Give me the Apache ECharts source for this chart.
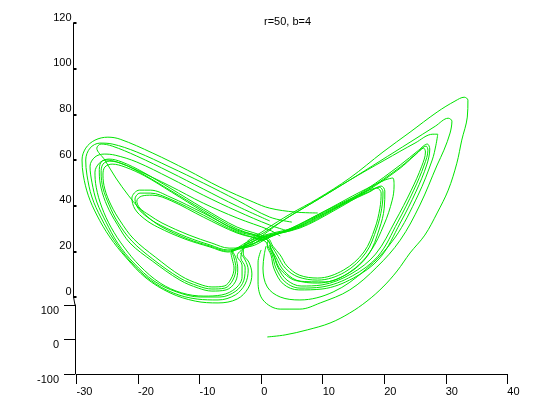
<!DOCTYPE html>
<html><head><meta charset="utf-8">
<script src="https://cdn.jsdelivr.net/npm/echarts@6/dist/echarts.min.js"></script>
<style>html,body{margin:0;padding:0;background:#fff}#c{width:560px;height:420px}</style>
</head><body><div id="c"></div>
<script>
const titleText = 'r=50, b=4';
const xMin = -30, xMax = 40, xStep = 10;
const zMin = 0, zMax = 120, zStep = 20;
const depthMin = -100, depthMax = 100, depthStep = 100;

// trajectory pieces: [x, screen height in z units]
const leftInnerA = [[0.6,24.9],[-3.9,28.4],[-9.4,35.9],[-14.8,42.9],[-18.0,45.5],[-19.7,45.5],[-20.5,42.9],[-20.0,38.9],[-18.5,35.0],[-16.4,31.5],[-12.1,26.3],[-8.3,22.8],[-5.4,20.6]];
const leftInnerB = [[0.6,25.8],[-3.9,29.3],[-9.4,36.8],[-14.8,43.8],[-18.0,46.8],[-19.8,46.8],[-21.0,43.3],[-20.5,38.5],[-18.9,34.1],[-16.8,30.6],[-12.4,25.4],[-8.3,21.9],[-5.4,19.7]];
const leftInnerC = [[0.6,24.5],[-3.9,28.0],[-9.4,35.0],[-14.5,42.0],[-17.7,44.6],[-19.4,44.2],[-20.2,42.0],[-19.7,38.9],[-18.2,35.9],[-16.1,32.4],[-11.7,27.1],[-8.0,23.6],[-5.2,21.4]];
const leftThickA = [[1.1,24.9],[-3.9,29.8],[-9.4,38.1],[-14.8,46.8],[-19.2,53.8],[-22.4,58.2],[-24.6,59.5],[-25.7,58.2],[-26.0,54.3],[-25.7,47.7],[-24.7,40.3],[-23.3,32.8],[-21.0,24.5],[-17.6,16.6],[-13.2,8.3],[-10.2,4.8],[-8.0,3.5],[-5.9,3.9],[-4.6,7.4],[-4.1,12.7],[-4.4,17.1],[-4.7,19.7]];
const leftThickB = [[1.1,25.8],[-3.9,30.6],[-9.4,38.9],[-14.8,47.7],[-19.2,54.7],[-22.6,59.1],[-24.7,60.4],[-26.0,59.1],[-26.3,54.7],[-26.0,47.7],[-25.0,39.8],[-23.4,31.9],[-21.3,23.6],[-17.7,15.8],[-13.2,7.4],[-10.2,3.9],[-8.0,2.6],[-5.7,3.1],[-4.2,6.6],[-3.8,12.3],[-4.1,17.1],[-4.6,20.1]];
const leftThickC = [[1.1,24.5],[-3.9,28.9],[-9.3,37.2],[-14.6,46.0],[-18.9,53.0],[-22.1,56.9],[-24.2,58.2],[-25.4,56.9],[-25.7,53.4],[-25.4,47.3],[-24.4,40.3],[-22.9,33.3],[-20.7,25.4],[-17.2,17.5],[-13.0,9.2],[-10.1,5.7],[-8.0,4.4],[-6.0,4.8],[-4.9,7.9],[-4.4,12.7],[-4.7,16.6],[-4.9,19.3]];
const leftDiag = [[1.4,33.3],[-3.9,39.8],[-9.4,47.3],[-14.8,54.7],[-20.2,61.7],[-24.2,66.1],[-26.0,67.0],[-26.7,65.2],[-25.4,60.0],[-23.6,52.1],[-21.6,44.6],[-20.0,39.4],[-18.4,35.0],[-16.1,30.6],[-11.9,25.4],[-8.3,22.3],[-5.4,20.1]];
const leftOuter1 = [[9.2,36.8],[5.5,37.2],[1.4,38.9],[-1.3,41.6],[-6.7,48.1],[-12.0,55.6],[-17.6,63.0],[-22.9,69.1],[-24.9,70.0],[-27.0,68.7],[-28.5,65.2],[-29.1,60.0],[-28.9,53.4],[-28.1,44.6],[-26.7,35.9],[-24.6,26.3],[-21.9,17.1],[-18.7,8.3],[-14.8,1.8],[-10.7,-1.8],[-7.0,-2.6],[-3.9,-0.9],[-2.1,3.9],[-1.5,10.1],[-2.0,15.3],[-2.9,18.8]];
const leftOuter2 = [[5.0,32.8],[1.4,35.0],[-3.9,42.4],[-9.4,49.9],[-14.8,56.9],[-20.2,63.5],[-24.2,67.0],[-26.2,67.4],[-27.8,65.2],[-28.5,60.0],[-28.3,53.4],[-27.5,43.8],[-26.0,34.6],[-23.9,24.9],[-21.3,15.8],[-18.0,7.4],[-14.3,1.8],[-10.4,-0.9],[-7.0,-1.3],[-4.2,0.9],[-2.6,5.7],[-2.1,11.8],[-2.6,16.2],[-3.4,19.3]];
const leftOuter3 = [[3.9,29.3],[1.4,31.5],[-3.9,37.6],[-9.4,44.6],[-14.8,52.1],[-20.2,59.1],[-23.7,62.1],[-25.5,62.6],[-27.0,61.3],[-27.8,57.3],[-27.5,50.3],[-26.7,41.6],[-25.2,32.8],[-23.3,23.6],[-20.7,14.9],[-17.4,7.0],[-13.7,2.2],[-9.9,0],[-6.7,0],[-4.1,2.6],[-2.8,7.4],[-2.6,13.1],[-3.3,17.1]];
const leftOuter4 = [[3.1,26.7],[1.4,29.3],[-3.9,34.6],[-9.4,41.1],[-14.8,48.6],[-20.2,55.6],[-23.4,59.1],[-25.2,60.0],[-26.3,58.6],[-27.0,54.7],[-26.8,48.1],[-25.9,39.4],[-24.4,30.6],[-22.3,21.9],[-19.7,13.6],[-16.4,6.1],[-12.9,1.8],[-9.3,0.4],[-6.4,0.9],[-4.1,3.9],[-3.1,8.8],[-3.1,14.0],[-3.9,17.9]];
const rightInnerA = [[-1.8,22.8],[1.1,26.3],[5.0,29.8],[9.1,35.4],[13.7,41.6],[17.4,46.0],[19.2,48.1],[19.8,46.0],[19.6,38.9],[18.8,30.2],[17.0,19.3],[13.6,10.9],[9.2,7.4],[6.0,8.8],[3.9,12.7],[2.7,17.9],[1.8,21.9]];
const rightInnerB = [[-2.0,23.6],[1.1,26.7],[5.0,29.3],[9.1,35.0],[13.7,41.1],[17.6,46.0],[19.5,48.6],[20.1,46.4],[20.0,38.9],[19.2,29.8],[17.4,18.4],[14.0,10.1],[9.2,6.1],[5.7,7.4],[3.6,11.8],[2.4,17.5],[1.6,21.4]];
const rightInnerC = [[-1.5,22.3],[1.1,25.8],[5.0,30.2],[9.1,35.9],[13.7,42.0],[17.2,46.4],[18.8,47.7],[19.5,45.5],[19.3,38.9],[18.5,30.2],[16.7,19.7],[13.4,11.8],[9.2,8.3],[6.2,9.6],[4.2,13.6],[3.1,18.4],[1.9,22.3]];
const rightThickA = [[-2.5,22.8],[0.6,26.7],[6.3,30.6],[11.7,38.1],[17.2,46.8],[22.6,56.9],[25.5,63.5],[26.8,66.1],[27.1,64.3],[26.5,57.8],[24.8,46.8],[22.2,32.8],[19.0,17.9],[14.8,9.2],[9.9,4.4],[6.3,3.9],[3.9,6.6],[2.4,12.7],[1.8,18.4],[1.1,22.3]];
const rightThickB = [[-2.2,24.1],[0.6,27.1],[6.3,31.1],[11.7,38.5],[17.2,47.3],[22.6,57.8],[25.6,64.3],[27.0,67.0],[27.4,64.8],[26.9,57.8],[25.2,46.4],[22.6,32.4],[19.3,17.1],[15.0,8.3],[9.9,3.5],[6.1,3.1],[3.6,5.7],[2.1,12.3],[1.6,18.4],[1.0,22.3]];
const rightThickC = [[-1.8,22.3],[0.6,26.3],[6.3,30.2],[11.7,37.6],[17.2,46.4],[22.4,56.0],[25.2,62.6],[26.4,65.2],[26.7,63.5],[26.1,57.3],[24.4,46.8],[21.8,33.3],[18.6,18.8],[14.6,10.1],[9.9,5.3],[6.5,4.8],[4.2,7.4],[2.7,13.1],[2.0,18.8],[1.3,22.8]];
const rightMid = [[-1.5,23.2],[1.8,26.7],[6.3,31.9],[11.2,38.9],[16.1,46.0],[20.1,51.2],[21.4,52.1],[21.6,48.6],[21.3,42.4],[20.0,31.9],[17.7,19.7],[14.4,10.9],[10.4,6.6],[6.0,7.0],[3.2,11.8],[2.1,17.9],[1.4,21.9]];
const rightOuter3 = [[-2.0,22.8],[0.1,26.7],[3.9,34.1],[8.8,42.0],[14.4,51.2],[20.1,60.0],[25.0,67.4],[27.9,71.3],[28.7,71.3],[28.4,66.5],[27.8,60.0],[25.5,44.6],[21.7,25.8],[16.9,11.8],[11.7,2.2],[6.3,-1.3],[3.1,0],[1.0,4.4],[0.3,12.7],[0.5,18.4],[0.8,22.3]];
const rightOuter2 = [[-2.4,23.2],[0.6,28.4],[4.7,35.4],[9.6,43.3],[14.4,51.2],[19.3,59.5],[24.2,67.8],[28.3,74.8],[30.4,78.3],[31.0,77.0],[30.7,71.8],[29.7,64.3],[28.6,57.8],[25.8,40.3],[22.6,24.9],[18.8,13.1],[14.4,3.1],[9.6,-2.6],[6.3,-5.3],[3.1,-5.3],[0.3,-1.3],[-0.5,6.6],[-0.5,15.3],[0.0,20.6]];
const rightOuter1 = [[-2.8,22.3],[0.6,29.3],[4.7,36.3],[9.1,42.9],[14.4,52.1],[19.8,63.5],[24.2,72.2],[28.6,81.0],[31.5,85.8],[33.0,87.5],[33.6,86.2],[33.5,78.8],[32.6,68.7],[31.8,58.6],[30.4,46.8],[28.6,36.8],[26.6,27.1],[24.2,19.3],[22.1,11.4],[19.8,4.4],[17.2,-1.8],[14.4,-7.0],[11.2,-11.4],[7.5,-14.4],[3.9,-16.6],[1.0,-17.5]];

const chains = [
  [leftInnerA, rightInnerA, leftInnerB, rightInnerB, leftThickA, rightThickA, leftInnerC, rightInnerC, leftThickB, rightMid],
  [leftDiag, rightThickB, leftThickC, rightThickC],
  [leftOuter4, rightOuter3],
  [leftOuter3, rightOuter2],
  [leftOuter2],
  [leftOuter1, rightOuter1]
];

const font = "'Liberation Sans', Arial, sans-serif";
const chart = echarts.init(document.getElementById('c'), null, {renderer: 'canvas'});
const GL = 76.5, GR = 52.7;
chart.setOption({
  animation: false,
  backgroundColor: '#ffffff',
  title: {text: titleText, left: 259, top: 11, textStyle: {fontSize: 11, fontWeight: 'normal', color: '#000', fontFamily: font}},
  grid: [
    {left: GL, right: GR, top: 23, height: 274},
    {left: GL, right: GR, top: 305, height: 69}
  ],
  xAxis: [
    {gridIndex: 0, type: 'value', min: xMin, max: xMax, show: false},
    {gridIndex: 1, type: 'value', min: xMin, max: xMax, interval: xStep, position: 'bottom',
     axisLine: {show: true, onZero: false, lineStyle: {color: '#000', width: 1}},
     axisTick: {show: true, inside: false, length: 10, lineStyle: {color: '#000'}},
     axisLabel: {color: '#000', fontSize: 11, fontFamily: font, margin: 12, align: 'left'},
     splitLine: {show: false}}
  ],
  yAxis: [
    {gridIndex: 0, type: 'value', min: zMin, max: zMax, interval: zStep, offset: 3,
     axisLine: {show: true, onZero: false, lineStyle: {color: '#000', width: 1}},
     axisTick: {show: true, inside: true, length: 3, lineStyle: {color: '#000', width: 2}},
     axisLabel: {color: '#000', fontSize: 11, fontFamily: font, margin: 2, verticalAlign: 'bottom'},
     splitLine: {show: false}},
    {gridIndex: 1, type: 'value', min: depthMin, max: depthMax, interval: depthStep, offset: 1.5,
     axisLine: {show: true, onZero: false, lineStyle: {color: '#000', width: 1}},
     axisTick: {show: true, inside: false, length: 11, lineStyle: {color: '#000'}},
     axisLabel: {color: '#000', fontSize: 11, fontFamily: font, margin: 16, verticalAlign: 'top'},
     splitLine: {show: false}}
  ],
  graphic: [
    {type: 'line', shape: {x1: 73.5, y1: 297, x2: 75, y2: 305}, style: {stroke: '#000', lineWidth: 1}, silent: true}
  ],
  series: chains.map(parts => ({
    type: 'line',
    xAxisIndex: 0, yAxisIndex: 0,
    data: [].concat(...parts),
    showSymbol: false,
    smooth: 0.35,
    clip: false,
    lineStyle: {color: '#00e400', width: 1},
    emphasis: {disabled: true},
    silent: true
  }))
});
</script></body></html>
